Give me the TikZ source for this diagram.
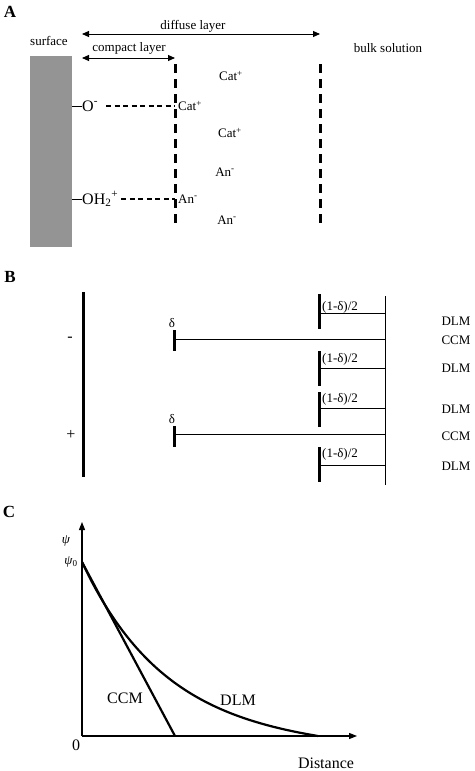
\documentclass[tikz,border=0pt]{standalone}
\usepackage{fontspec}
\setmainfont{Liberation Serif}
\usetikzlibrary{arrows.meta,positioning}

\begin{document}
\begin{tikzpicture}[x=1pt, y=-1pt,
    txt/.style={inner sep=0pt, font=\fontsize{13}{15}\selectfont},
    big/.style={inner sep=0pt, font=\fontsize{16}{18}\selectfont},
    panel/.style={inner sep=0pt, font=\fontsize{17}{19}\selectfont\bfseries},
    wallbox/.style={fill=black!42, draw=none, minimum width=42pt, minimum height=191pt, inner sep=0pt},
    span/.style={{Triangle[length=7pt,width=6pt]}-{Triangle[length=7pt,width=6pt]}, line width=0.9pt},
    plane/.style={line width=3pt, dash pattern=on 9pt off 6pt},
    bond/.style={line width=1.2pt, dash pattern=on 5pt off 3.5pt},
    tick/.style={line width=3pt},
    thin/.style={line width=0.9pt},
    axis/.style={-{Triangle[length=8pt,width=6pt]}, line width=1.1pt},
    curve/.style={line width=2.2pt}
]
\useasboundingbox (0,0) rectangle (474,771);

% A: double layer
\node[panel] (pa) at (10,12) {A};
\node[wallbox] (wall) at (51,151.5) {};
\node[txt] (surf) at (49,41) {surface};
\node[txt] (bulk) at (388,48) {bulk solution};
\coordinate (dl0) at (82,34);
\coordinate (dl1) at (320,34);
\coordinate (cl0) at (82,58);
\coordinate (cl1) at (175,58);
\draw[span] (dl0) -- (dl1);
\draw[span] (cl0) -- (cl1);
\node[txt] (diff) at (193,26) {diffuse layer};
\node[txt] (comp) at (129,48) {compact layer};
\coordinate (ohp0) at (175,64);
\coordinate (ohp1) at (175,228);
\coordinate (dif0) at (320,64);
\coordinate (dif1) at (320,226);
\draw[plane] (ohp0) -- (ohp1);
\draw[plane] (dif0) -- (dif1);

\node[big, anchor=west] (om) at (82,106) {O\textsuperscript{-}};
\node[big, anchor=west] (ohm) at (82,199) {OH\textsubscript{2}\textsuperscript{+}};
\draw[thin] (wall.east |- om.west) -- (om.west);
\draw[thin] (wall.east |- ohm.west) -- (ohm.west);
\node[txt, anchor=west] (cat1) at (178,106) {Cat\textsuperscript{+}};
\node[txt, anchor=west] (an1) at (178,199) {An\textsuperscript{-}};
\draw[bond] ([xshift=8pt]om.east) -- (om.east -| ohp0);
\draw[bond] ([xshift=3pt]ohm.east) -- (ohm.east -| ohp0);
\node[txt] (cat2) at (231,76) {Cat\textsuperscript{+}};
\node[txt] (cat3) at (230,133) {Cat\textsuperscript{+}};
\node[txt] (an2) at (225,172) {An\textsuperscript{-}};
\node[txt] (an3) at (227,220) {An\textsuperscript{-}};

% B: charge distribution
\node[panel] (pb) at (10,277) {B};
\coordinate (s0) at (83,292);
\coordinate (s1) at (83,477);
\draw[tick] (s0) -- (s1);
\node[big] (neg) at (70,339) {-};
\node[big] (pos) at (71,435) {+};
\coordinate (rb0) at (385,296);
\coordinate (rb1) at (385,485);
\draw[thin] (rb0) -- (rb1);
\foreach \ya/\yl [count=\i] in {330/339, 426/434} {
  \coordinate (d\i) at (174,\yl);
  \draw[tick] (174,\ya) -- (174,\ya+21);
  \draw[thin] (d\i) -- (d\i -| rb0);
  \node[txt] (del\i) at (172,\ya-7) {δ};
}
\foreach \ya/\yl/\yt [count=\i] in {294/313/301, 351/368/353, 392/408/393, 447/465/448} {
  \coordinate (t\i) at (319,\yl);
  \draw[tick] (319,\ya) -- (319,\ya+35);
  \draw[thin] (t\i) -- (t\i -| rb0);
  \node[txt, anchor=north west] (f\i) at (322,\yt) {(1-δ)/2};
}
\foreach \yy/\mm in {321/DLM, 340/CCM, 368/DLM, 409/DLM, 436/CCM, 466/DLM}
  \node[txt] (m\yy) at (456,\yy) {\mm};

% C: potential profile
\node[panel] (pc) at (9,512) {C};
\coordinate (o) at (82,736);
\coordinate (ytop) at (82,522);
\coordinate (xend) at (357,736);
\draw[axis] (o) -- (ytop);
\draw[axis] (o) -- (xend);
\node[txt] (psi) at (66,541) {\itshape ψ};
\node[txt] (psi0) at (71,562) {{\itshape ψ}\textsubscript{0}};
\node[big] (zero) at (76,745) {0};
\node[big] (dist) at (326,763) {Distance};
\coordinate (p0) at (82,562);
\coordinate (ccm) at (175,736);
\draw[curve] (p0) -- (ccm);
\draw[curve] plot[domain=0:236, samples=70] ({82+\x},{736-174*(exp(-0.012*\x)-0.0589*\x/236)});
\node[big] (lccm) at (125,698) {CCM};
\node[big] (ldlm) at (238,700) {DLM};
\end{tikzpicture}
\end{document}
